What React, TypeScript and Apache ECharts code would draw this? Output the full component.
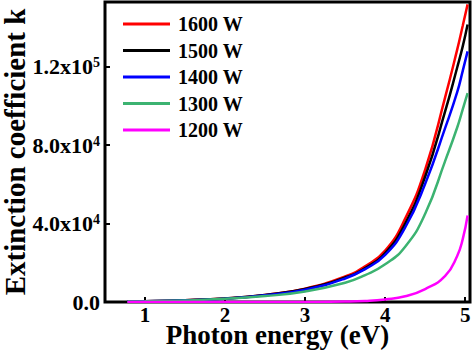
import React, { useEffect, useRef } from 'react';
import * as echarts from 'echarts';

const energies = [0.78, 1.0, 1.5, 2.0, 2.5, 3.0, 3.5, 3.75, 4.0, 4.25, 4.5, 4.75, 4.9, 4.97, 5.03];
const k1600 = [300, 400, 900, 1800, 3600, 6800, 13000, 18200, 26200, 42500, 67500, 104500, 128700, 141000, 151800];
const k1500 = [300, 400, 900, 1800, 3600, 6600, 12500, 17300, 25000, 40000, 64000, 97300, 119600, 130500, 141500];
const k1400 = [300, 400, 850, 1700, 3400, 6300, 12000, 16800, 24000, 38000, 60300, 88800, 107000, 118000, 127800];
const k1300 = [300, 400, 800, 1600, 3000, 5400, 9800, 13700, 19200, 28200, 45000, 72000, 89000, 98400, 106500];
const k1200 = [0, 0, 0, 0, 20, 50, 200, 500, 1300, 2900, 6600, 13300, 23500, 32200, 44100];

const seriesNames = ['1600 W', '1500 W', '1400 W', '1300 W', '1200 W'];
const seriesColors = ['#ff0000', '#000000', '#0000ff', '#3cb371', '#ff00ff'];
const seriesValues = [k1600, k1500, k1400, k1300, k1200];

const xTicks = [1, 2, 3, 4, 5];
const yTicks = [0, 40000, 80000, 120000];
const yTickMantissa = ['0.0', '4.0', '8.0', '1.2'];
const yTickExponent = ['', '4', '4', '5'];

const FONT = 'Liberation Serif';

export default function App() {
  const ref = useRef<HTMLDivElement>(null);
  useEffect(() => {
    if (!ref.current) return;
    const chart = echarts.init(ref.current, null, { renderer: 'svg' });
    chart.setOption({
      animation: false,
      backgroundColor: '#ffffff',
      grid: {
        left: 105,
        right: 4,
        top: 2,
        bottom: 50,
        show: true,
        borderColor: '#000',
        borderWidth: 3,
        backgroundColor: 'transparent',
        outerBoundsMode: 'none',
        containLabel: false,
      },
      legend: {
        orient: 'vertical',
        left: 123,
        top: 14,
        padding: 0,
        itemWidth: 47,
        itemHeight: 3,
        itemGap: 6.5,
        icon: 'rect',
        textStyle: {
          fontFamily: FONT,
          fontWeight: 'bold',
          fontSize: 20,
          color: '#000',
          padding: [0, 0, 0, 3],
        },
        data: seriesNames,
      },
      xAxis: {
        type: 'value',
        min: 0.5,
        max: 5.06,
        name: 'Photon energy (eV)',
        nameLocation: 'middle',
        nameGap: 24,
        nameMoveOverlap: false,
        nameTextStyle: {
          fontFamily: FONT,
          fontWeight: 'bold',
          fontSize: 27,
          lineHeight: 18,
          color: '#000',
          padding: [0, 20, 0, 0],
        },
        axisLine: { show: false },
        axisTick: {
          show: true,
          inside: true,
          length: 5,
          customValues: xTicks,
          lineStyle: { color: '#000', width: 2 },
        },
        axisLabel: {
          customValues: xTicks,
          margin: 6,
          fontFamily: FONT,
          fontWeight: 'bold',
          fontSize: 21,
          lineHeight: 14,
          color: '#000',
          hideOverlap: false,
          formatter: (v: number) => String(v),
        },
        splitLine: { show: false },
      },
      yAxis: {
        type: 'value',
        min: 0,
        max: 153000,
        name: 'Extinction coefficient k',
        nameLocation: 'middle',
        nameGap: 79.5,
        nameMoveOverlap: false,
        nameRotate: 90,
        nameTextStyle: {
          fontFamily: FONT,
          fontWeight: 'bold',
          fontSize: 29,
          lineHeight: 22,
          color: '#000',
        },
        axisLine: { show: false },
        axisTick: {
          show: true,
          inside: true,
          length: 5,
          customValues: yTicks,
          lineStyle: { color: '#000', width: 2 },
        },
        axisLabel: {
          customValues: yTicks,
          margin: 5,
          fontFamily: FONT,
          fontWeight: 'bold',
          fontSize: 22,
          color: '#000',
          hideOverlap: false,
          formatter: (v: number) => {
            const i = yTicks.indexOf(v);
            if (i < 0) return '';
            if (!yTickExponent[i]) return '{b|' + yTickMantissa[i] + '}';
            return '{b|' + yTickMantissa[i] + 'x10}{s|' + yTickExponent[i] + '}';
          },
          rich: {
            b: { fontFamily: FONT, fontWeight: 'bold', fontSize: 22, color: '#000', lineHeight: 22 },
            s: { fontFamily: FONT, fontWeight: 'bold', fontSize: 14, color: '#000', lineHeight: 14, verticalAlign: 'top' },
          },
        },
        splitLine: { show: false },
      },
      series: seriesNames.map((name, si) => ({
        name,
        type: 'line',
        smooth: true,
        symbol: 'none',
        data: energies.map((e, i) => [e, seriesValues[si][i]]),
        lineStyle: { color: seriesColors[si], width: 2.5 },
        itemStyle: { color: seriesColors[si] },
      })),
    });
    return () => chart.dispose();
  }, []);
  return (
    <div
      ref={ref}
      style={{ position: 'fixed', left: 0, top: 0, width: 474, height: 352, background: '#fff' }}
    />
  );
}
